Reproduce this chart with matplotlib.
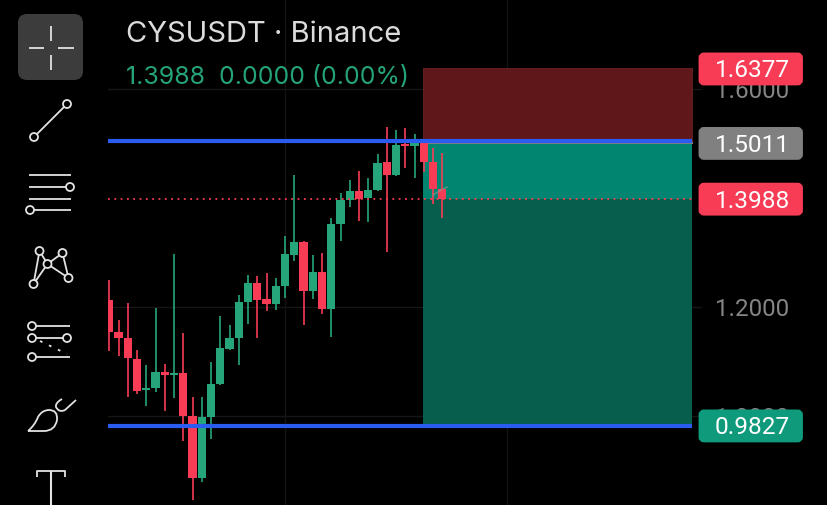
import matplotlib
matplotlib.use("Agg")
import matplotlib.pyplot as plt
from matplotlib.patches import FancyBboxPatch, Rectangle, Circle, PathPatch
from matplotlib.path import Path

W, H = 828, 506
BG = "#000000"
GREEN = "#27a57a"
RED = "#f83c55"

opens = [1.2129,1.1535,1.1425,1.1046,1.0471,1.0508,1.0801,1.0752,1.0789,0.9994,0.8869,0.9988,1.0587,1.1229,1.1437,1.2092,1.2447,1.2147,1.2055,
         1.2391,1.2960,1.3187,1.2288,1.2642,1.1963,1.3517,1.3957,1.4122,1.3994,1.4147,1.4654,1.4422,1.4991,1.4955,1.5046,1.4667,1.4165]
highs = [1.2495,1.1762,1.2079,1.1217,1.0942,1.1976,1.0954,1.2972,1.1523,1.0355,1.0343,1.0997,1.1841,1.1670,1.2220,1.2581,1.2575,1.2630,1.2532,
         1.3297,1.4422,1.3217,1.2954,1.2985,1.3639,1.4092,1.4330,1.4489,1.4361,1.4801,1.5297,1.5248,1.5284,1.5174,1.5046,1.4917,1.4819]
lows  = [1.1199,1.1107,1.0349,1.0404,1.0190,1.0447,1.0098,1.0324,0.9548,0.8465,0.8795,0.9578,1.0575,1.1217,1.0936,1.1694,1.1425,1.1933,1.1951,
         1.2159,1.2850,1.1670,1.2147,1.1872,1.1443,1.3211,1.3829,1.3578,1.3553,1.4122,1.3003,1.4398,1.4544,1.4373,1.4471,1.3890,1.3633]
closes= [1.1535,1.1425,1.1064,1.0465,1.0508,1.0801,1.0752,1.0789,1.0006,0.8869,0.9988,1.0587,1.1242,1.1437,1.2092,1.2447,1.2135,1.2055,1.2385,
         1.2972,1.3187,1.2288,1.2642,1.1963,1.3517,1.3957,1.4122,1.3988,1.4147,1.4642,1.4422,1.4972,1.4960,1.5046,1.4667,1.4165,1.3982]

tick_values = [1.6, 1.2, 1.0]
tick_labels = ["1.6000", "1.2000", "1.0000"]
stop_price, entry_price, last_price, target_price = 1.6377, 1.5011, 1.3988, 0.9827
blue_levels = [1.5055, 0.9822]
tool_start, tool_end = 33.9, 63.0
grid_times = [19.0, 43.0]

plt.rcParams["font.family"] = ["Inter", "DejaVu Sans"]
fig = plt.figure(figsize=(W/100, H/100), dpi=100, facecolor=BG)

def y2p(y):
    return 1.2 + (308 - y) / 545

ax = fig.add_axes([108/W, 0, (W-108)/W, 1], facecolor=BG)
ax.set_xlim((108-109.3)/9.25, (W-109.3)/9.25)
ax.set_ylim(y2p(H), y2p(0))
ax.axis("off")

# grid
for v in tick_values:
    ax.plot([ax.get_xlim()[0], tool_end + 1], [v, v], color="#161616", lw=1, zorder=1)
for t in grid_times:
    ax.axvline(t, color="#141414", lw=1, zorder=1)

# position tool
ax.add_patch(Rectangle((tool_start, entry_price), tool_end-tool_start, stop_price-entry_price,
                       fc="#5f171a", ec="#6a2527", lw=0.6, zorder=2))
ax.add_patch(Rectangle((tool_start, last_price), tool_end-tool_start, entry_price-last_price,
                       fc="#028570", ec="none", zorder=2))
ax.add_patch(Rectangle((tool_start, target_price), tool_end-tool_start, last_price-target_price,
                       fc="#075e4d", ec="none", zorder=2))
ax.plot([tool_start, tool_end], [entry_price, entry_price], color="#808080", lw=1.5, zorder=2.5)

# candles
for i, (o, h, l, c) in enumerate(zip(opens, highs, lows, closes)):
    col = GREEN if c >= o else RED
    ax.plot([i, i], [l, h], color=col, lw=1.2, zorder=4, solid_capstyle="butt")
    ax.bar(i, abs(c-o), bottom=min(o, c), width=0.88, color=col, zorder=4, lw=0)

# horizontals
for b in blue_levels:
    ax.plot([ax.get_xlim()[0], tool_end], [b, b], color="#2a5cf0", lw=3, zorder=5, solid_capstyle="butt")
ax.plot([ax.get_xlim()[0], tool_end], [last_price]*2, color=RED, lw=1.3, ls=(0, (1, 2.5)), zorder=5)

# overlay in pixel coordinates: labels and toolbar
ov = fig.add_axes([0, 0, 1, 1], facecolor="none")
ov.set_xlim(0, W); ov.set_ylim(H, 0); ov.axis("off")

def py(p):
    return 308 - (p - 1.2) * 545

for v, s in zip(tick_values, tick_labels):
    ov.text(752.5, py(v) + 1.5, s, color="#858585", fontsize=17.4, ha="center", va="center", zorder=2, family="Roboto")

tags = [(stop_price, RED, "#ffffff"), (entry_price, "#808080", "#ffffff"),
        (last_price, RED, "#ffffff"), (target_price, "#0f9a7c", "#ffffff")]
for p, fc, tc in tags:
    yc = py(p) + 0.5
    ov.add_patch(FancyBboxPatch((701, yc-14), 99.5, 28, boxstyle="round,pad=0,rounding_size=3",
                                fc=fc, ec=fc, lw=3.5, zorder=3, mutation_aspect=1))
    ov.text(752.5, yc + 1, f"{p:.4f}", color=tc, fontsize=17.6, ha="center", va="center", zorder=4, family="Roboto")

ov.text(126, 34, "CYSUSDT · Binance", color="#dcdcdc", fontsize=21, va="center", ha="left")
ov.text(126, 77.5, "1.3988  0.0000 (0.00%)", color="#25a47a", fontsize=17.9, va="center", ha="left")

# small grey drawing mark on the last candles
ov.plot([433, 441, 447], [196, 191, 188], color="#8a9a96", lw=1, zorder=1, alpha=0.7)

# toolbar
ICON = "#e2e2e2"
ov.add_patch(FancyBboxPatch((18, 15), 65, 66, boxstyle="round,pad=0,rounding_size=9", fc="#3c3c3c", ec="none"))
def ln(xs, ys, lw=1.3, **k):
    ov.plot(xs, ys, color=k.pop("color", ICON), lw=lw, solid_capstyle="butt", **k)
def circ(x, y, r=4):
    ov.add_patch(Circle((x, y), r, fc=BG, ec=ICON, lw=1.3, zorder=3))

ln([29, 44], [49, 49]); ln([58, 74], [49, 49]); ln([51, 51], [27, 42]); ln([51, 51], [56, 71])
ln([34, 67], [138, 105]); circ(67, 105); circ(34, 138)
ln([29, 71], [176, 176]); ln([29, 66], [188, 188]); circ(70, 188)
ln([29, 71], [200, 200]); ln([34, 71], [211, 211]); circ(30, 211)
ln([33.5, 39.5, 47.5, 62.5, 68.5, 47.5, 33.5], [285, 252, 265, 254, 279, 265, 285])
for x, y in [(39.5, 252), (62.5, 254), (47.5, 265), (33.5, 285), (68.5, 279)]:
    circ(x, y)
ln([36, 70], [327, 327]); ln([36, 63], [339, 339]); ln([36, 70], [358, 358])
ov.plot([40, 67], [342, 355], color=ICON, lw=1.3, ls=(0, (1.5, 4)))
circ(32, 327); circ(32, 339); circ(67, 339); circ(32, 358)
leaf = Path([(28, 432), (35, 426), (38, 418), (42, 411), (49, 411), (58, 411), (57, 421), (55, 432), (44, 432), (28, 432)],
            [Path.MOVETO, Path.CURVE3, Path.CURVE3, Path.CURVE3, Path.CURVE3, Path.CURVE3, Path.CURVE3, Path.CURVE3, Path.CURVE3, Path.LINETO])
ov.add_patch(PathPatch(leaf, fc="none", ec=ICON, lw=1.3))
hook = Path([(62, 400), (55, 404), (56, 408), (59, 414), (65, 411), (76, 401)],
            [Path.MOVETO, Path.CURVE3, Path.CURVE3, Path.CURVE3, Path.CURVE3, Path.LINETO])
ov.add_patch(PathPatch(hook, fc="none", ec=ICON, lw=1.3))
ln([37.5, 37.5, 65, 65], [478, 472, 472, 478]); ln([51, 51], [472, 506], lw=1.5)

fig.savefig("out.png", dpi=100, facecolor=BG)
